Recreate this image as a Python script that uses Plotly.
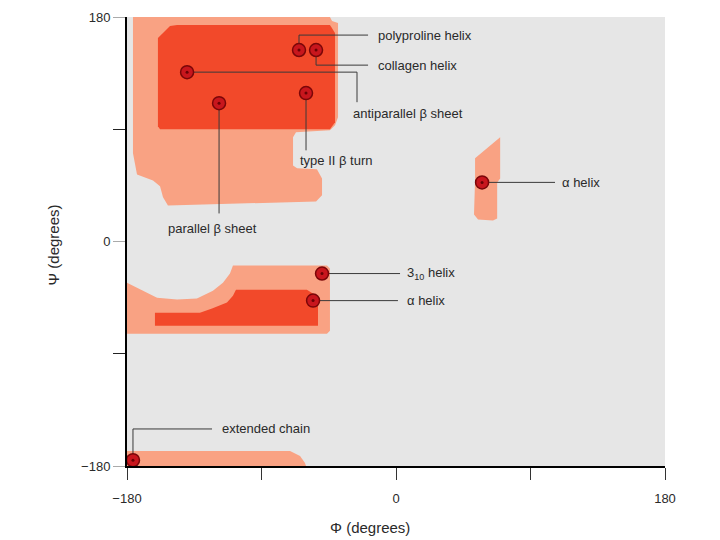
import plotly.graph_objects as go

# ---------------- data ----------------
# allowed regions (phi, psi in degrees)
light_tl_phi = [-176, -44.2, -42.8, -38.8, -38.8, -40.8, -44.2, -66.9, -68.9, -68.9, -66.2, -52.9, -49.5, -49.5, -53.5, -152.6, -155.9, -157.9, -162.6, -173.3, -176]
light_tl_psi = [180, 180, 176.8, 175.2, 99.6, 93.2, 89.2, 87.6, 83.6, 61, 58.7, 57.9, 50.6, 37, 32.1, 28.9, 35.4, 44.2, 49, 53.8, 70.7]

dark_tl_phi = [-159.3, -151.2, -146.5, -44.2, -40.8, -40.8, -44.2, -157.9, -159.3]
dark_tl_psi = [163.1, 172.8, 173.6, 173.6, 167.1, 95.6, 90, 90, 92.4]

light_bl_phi = [-180, -173.3, -159.9, -146.5, -133.2, -122.5, -115.8, -111.1, -109.1, -46.2, -44.2, -44.2, -46.2, -180]
light_bl_psi = [-33, -37, -45, -46.6, -45.8, -39.4, -33, -25.7, -19.3, -19.3, -21.7, -71.5, -73.9, -73.9]

dark_bl_phi = [-161.3, -131.2, -123.1, -113.1, -109.1, -107.1, -59.6, -52.2, -52.2, -161.3]
dark_bl_psi = [-57.1, -57.1, -53.8, -49, -43.4, -38.6, -38.6, -44.2, -67.5, -67.5]

light_r_phi = [52.9, 69.7, 69.7, 67.7, 67.7, 64.9, 54.9, 52.2, 52.9]
light_r_psi = [66.7, 83.6, 50.6, 47.4, 18.5, 16.9, 17.7, 21.7, 49]

light_b_phi = [-180, -180, -70.9, -64.2, -60.9, -60.2]
light_b_psi = [-180, -168, -168, -172, -177.6, -180]

# secondary-structure points
names = ["polyproline helix", "collagen helix", "antiparallel β sheet", "parallel β sheet",
         "type II β turn", "α helix", "3<sub>10</sub> helix", "α helix", "extended chain"]
phi = [-64.9, -53.5, -139.8, -118.4, -60.2, 57.6, -49.5, -55.5, -176]
psi = [153.5, 153.5, 135.8, 110.9, 119.0, 47.4, -25.7, -47.4, -175.3]

# leader-line routes (elbow/end points) and label anchors
leader_phi = [[-64.9, -18.7], [-53.5, -18.7], [-26.1, -26.1], [-118.4], [-60.2], [106.4], [2.7], [1.3], [-176, -123.1]]
leader_psi = [[165.5, 165.5], [141.4, 141.4], [135.8, 111.7], [22.5], [73.1], [47.4], [-25.7], [-47.4], [-150.3, -150.3]]
label_phi = [-13.4, -13.4, -30.1, -123.1, -65.6, 109.7, 6.0, 6.0, -117.8]
label_psi = [165.5, 141.4, 102.9, 10.4, 65.1, 47.4, -25.7, -47.4, -150.3]
label_xanchor = ["left", "left", "left", "center", "left", "left", "left", "left", "left"]

tick_vals = [-180, 0, 180]
tick_text = ["−180", "0", "180"]
minor_tick_vals = [-90, 90]

x_title = "Φ (degrees)"
y_title = "Ψ (degrees)"

# ---------------- style ----------------
LIGHT = "#f9a283"
DARK = "#f2492a"
BG = "#e6e6e6"
FONT = "Liberation Sans Narrow, Arial Narrow, Liberation Sans, Arial"

fig = go.Figure()

def region(x, y, color):
    fig.add_trace(go.Scatter(x=x + [x[0]], y=y + [y[0]], mode="lines", fill="toself",
                             fillcolor=color, line=dict(width=0, color=color),
                             hoverinfo="skip", showlegend=False))

region(light_tl_phi, light_tl_psi, LIGHT)
region(light_bl_phi, light_bl_psi, LIGHT)
region(light_r_phi, light_r_psi, LIGHT)
region(light_b_phi, light_b_psi, LIGHT)
region(dark_tl_phi, dark_tl_psi, DARK)
region(dark_bl_phi, dark_bl_psi, DARK)

# leader lines
for i in range(len(names)):
    xs = [phi[i]] + leader_phi[i]
    ys = [psi[i]] + leader_psi[i]
    fig.add_trace(go.Scatter(x=xs, y=ys, mode="lines", line=dict(color="#3a3a3a", width=1),
                             hoverinfo="skip", showlegend=False))

# markers
fig.add_trace(go.Scatter(x=phi, y=psi, mode="markers",
                         marker=dict(size=13, color="#c8161d", line=dict(color="#7a0608", width=1.5)),
                         text=names, showlegend=False))
fig.add_trace(go.Scatter(x=phi, y=psi, mode="markers",
                         marker=dict(size=3, color="#6a0205"), hoverinfo="skip", showlegend=False))

for i in range(len(names)):
    fig.add_annotation(x=label_phi[i], y=label_psi[i], text=names[i], showarrow=False,
                       xanchor=label_xanchor[i], yanchor="middle",
                       font=dict(family=FONT, size=13, color="#2a2a2a"))

# axis titles
fig.add_annotation(xref="paper", yref="paper", x=0.452, y=-0.138, text=x_title,
                   showarrow=False, xanchor="center", yanchor="middle",
                   font=dict(family=FONT, size=15, color="#2a2a2a"))
fig.add_annotation(xref="paper", yref="paper", x=-0.137, y=0.492, text=y_title,
                   showarrow=False, xanchor="center", yanchor="middle", textangle=-90,
                   font=dict(family=FONT, size=15, color="#2a2a2a"))

fig.update_layout(
    width=720, height=540,
    margin=dict(l=127, r=55, t=17, b=74),
    paper_bgcolor="white", plot_bgcolor=BG,
    font=dict(family=FONT, size=13, color="#2a2a2a"),
    showlegend=False,
)
fig.update_xaxes(range=[-180, 180], tickmode="array", tickvals=tick_vals, ticktext=tick_text,
                 ticks="outside", ticklen=12, tickcolor="#333", tickwidth=1,
                 ticklabelstandoff=7, automargin=False,
                 minor=dict(tickmode="array", tickvals=minor_tick_vals, ticks="outside",
                            ticklen=12, tickcolor="#333", tickwidth=1, showgrid=False),
                 showline=True, linecolor="black", linewidth=2, showgrid=False, zeroline=False,
                 tickfont=dict(size=13))
fig.update_yaxes(range=[-180, 180], tickmode="array", tickvals=tick_vals, ticktext=tick_text,
                 ticks="outside", ticklen=12, tickcolor="#aaaaaa", tickwidth=1,
                 automargin=False,
                 minor=dict(tickmode="array", tickvals=minor_tick_vals, ticks="outside",
                            ticklen=12, tickcolor="#222", tickwidth=1, showgrid=False),
                 showline=True, linecolor="black", linewidth=2, showgrid=False, zeroline=False,
                 tickfont=dict(size=13))

fig.write_html("out.html")
